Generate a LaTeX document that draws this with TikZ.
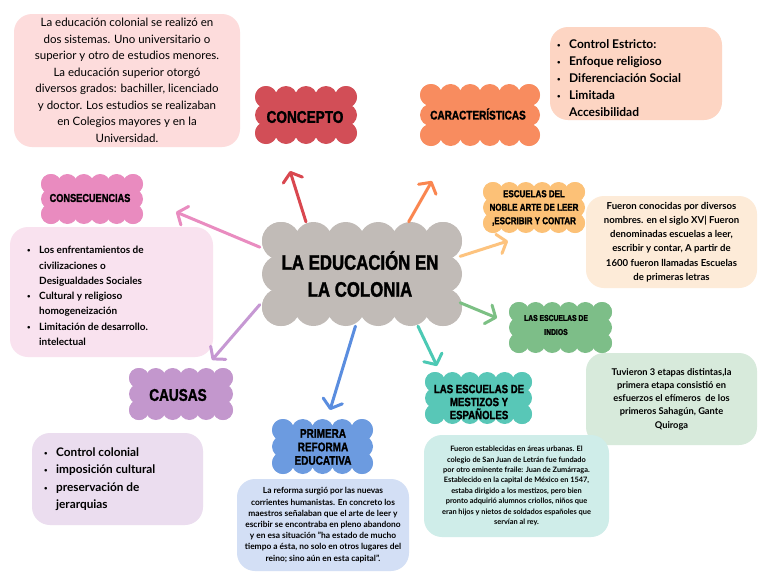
\documentclass[tikz,border=0pt]{standalone}
\usepackage{fontspec}
\setmainfont{Lato}
\newfontfamily\headfont[FakeStretch=0.8,FakeBold=1.5]{Liberation Sans}
\usetikzlibrary{arrows.meta}

\definecolor{cRed}{HTML}{D24E57}
\definecolor{cOrange}{HTML}{F88C5F}
\definecolor{cYellow}{HTML}{FCC177}
\definecolor{cGreen}{HTML}{7DBE88}
\definecolor{cTeal}{HTML}{58C7B7}
\definecolor{cBlue}{HTML}{6C9BE0}
\definecolor{cPurple}{HTML}{C397CD}
\definecolor{cPink}{HTML}{E98BBF}
\definecolor{cGray}{HTML}{C1BBB7}
\definecolor{bPink}{HTML}{FDDCDC}
\definecolor{bPeach}{HTML}{FDD5C3}
\definecolor{bCream}{HTML}{FDEBD8}
\definecolor{bGreen}{HTML}{D7EADB}
\definecolor{bTeal}{HTML}{CFEDE9}
\definecolor{bBlue}{HTML}{D3DFF5}
\definecolor{bLav}{HTML}{EBDDEF}
\definecolor{bRose}{HTML}{F9E2EF}
\definecolor{aRed}{HTML}{D9474F}
\definecolor{aOrange}{HTML}{FA8650}
\definecolor{aYellow}{HTML}{FDC37E}
\definecolor{aGreen}{HTML}{7CC084}
\definecolor{aTeal}{HTML}{4CC9B4}
\definecolor{aBlue}{HTML}{5A8DDF}
\definecolor{aPurple}{HTML}{C698D3}
\definecolor{aPink}{HTML}{E98CC0}

\newcommand\cloudfill[6]{%
  \pgfmathsetmacro\cwA{#3-#1-2*#5}%
  \pgfmathsetmacro\chA{#4-#2-2*#5}%
  \pgfmathtruncatemacro\nxA{max(1,round(\cwA/(1.75*#5)))}%
  \pgfmathtruncatemacro\nyA{max(1,round(\chA/(1.75*#5)))}%
  \fill[#6] ({#1+#5},{#2+#5}) rectangle ({#3-#5},{#4-#5});
  \foreach \k in {0,...,\nxA}{
    \fill[#6] ({#1+#5+\k*\cwA/\nxA},{#2+#5}) circle[radius=#5pt];
    \fill[#6] ({#1+#5+\k*\cwA/\nxA},{#4-#5}) circle[radius=#5pt];
  }
  \foreach \k in {0,...,\nyA}{
    \fill[#6] ({#1+#5},{#2+#5+\k*\chA/\nyA}) circle[radius=#5pt];
    \fill[#6] ({#3-#5},{#2+#5+\k*\chA/\nyA}) circle[radius=#5pt];
  }
}
\newcommand\bitem{\makebox[12pt][l]{\raisebox{1pt}{\fontsize{6}{6}\selectfont\textbullet}}}
\newcommand\bcont{\hspace*{12pt}}

\tikzset{
  box/.style={rounded corners=18pt, inner sep=0pt, align=center, text=black},
  head/.style={font=\headfont\bfseries, text=black, align=center, inner sep=0pt},
  listtext/.style={align=left, inner sep=0pt, anchor=west, text=black},
  arr/.style={line width=3pt, line cap=round, line join=round,
    -{Straight Barb[length=8pt,width=20pt,line cap=round,line join=round]}},
}

\begin{document}
\begin{tikzpicture}[x=1pt,y=-1pt]
\useasboundingbox (0,0) rectangle (768,576);
\fill[white] (0,0) rectangle (768,576);

% ---------- boxes ----------
\node[box, fill=bPink, minimum width=226pt, minimum height=133pt,
  font=\fontsize{11.5}{16.5}\selectfont] (conceptbox) at (127,80.5)
  {La educación colonial se realizó en\\dos sistemas. Uno universitario o\\superior y otro de estudios menores.\\La educación superior otorgó\\diversos grados: bachiller, licenciado\\y doctor. Los estudios se realizaban\\en Colegios mayores y en la\\Universidad.};

\node[box, fill=bPeach, minimum width=172pt, minimum height=93pt] (caractbox) at (636,73.5) {};
\node[listtext, font=\bfseries\fontsize{12}{17}\selectfont] (caracttext) at (557,78)
  {\bitem Control Estricto:\\\bitem Enfoque religioso\\\bitem Diferenciación Social\\\bitem Limitada\\\bcont Accesibilidad};

\node[box, fill=bCream, minimum width=171pt, minimum height=92pt,
  font=\bfseries\fontsize{9.6}{14.3}\selectfont] (noblebox) at (671.5,242)
  {Fueron conocidas por diversos\\nombres. en el siglo XV| Fueron\\denominadas escuelas a leer,\\escribir y contar, A partir de\\1600 fueron llamadas Escuelas\\de primeras letras};

\node[box, fill=bGreen, minimum width=171pt, minimum height=92pt,
  font=\bfseries\fontsize{9.3}{13.3}\selectfont] (indiosbox) at (671.5,399)
  {Tuvieron 3 etapas distintas,la\\primera etapa consistió en\\esfuerzos el efímeros\ \ de los\\primeros Sahagún, Gante\\Quiroga};

\node[box, fill=bTeal, minimum width=185pt, minimum height=102pt,
  font=\bfseries\fontsize{7.4}{10.4}\selectfont] (mestizobox) at (516.5,486)
  {Fueron establecidas en áreas urbanas. El\\colegio de San Juan de Letrán fue fundado\\por otro eminente fraile: Juan de Zumárraga.\\Establecido en la capital de México en 1547,\\estaba dirigido a los mestizos, pero bien\\pronto adquirió alumnos criollos, niños que\\eran hijos y nietos de soldados españoles que\\servían al rey.};

\node[box, fill=bBlue, minimum width=172pt, minimum height=92pt,
  font=\bfseries\fontsize{8.4}{11.2}\selectfont] (reformabox) at (323,525)
  {La reforma surgió por las nuevas\\corrientes humanistas. En concreto los\\maestros señalaban que el arte de leer y\\escribir se encontraba en pleno abandono\\y en esa situación "ha estado de mucho\\tiempo a ésta, no solo en otros lugares del\\reino; sino aún en esta capital".};

\node[box, fill=bLav, minimum width=171pt, minimum height=92pt] (causasbox) at (117.5,479) {};
\node[listtext, font=\bfseries\fontsize{11.8}{17.5}\selectfont] (causastext) at (44,479)
  {\bitem Control colonial\\\bitem imposición cultural\\\bitem preservación de\\\bcont jerarquias};

\node[box, fill=bRose, minimum width=203pt, minimum height=130pt] (consebox) at (111.5,292) {};
\node[listtext, font=\bfseries\fontsize{10}{15.3}\selectfont] (consetext) at (27,296)
  {\bitem Los enfrentamientos de\\\bcont civilizaciones o\\\bcont Desigualdades Sociales\\\bitem Cultural y religioso\\\bcont homogeneización\\\bitem Limitación de desarrollo.\\\bcont intelectual};

% ---------- clouds ----------
\cloudfill{255}{86}{357}{144}{11}{cRed}
\node[head, font=\headfont\bfseries\fontsize{17}{17}\selectfont] (concepto) at (305,117) {CONCEPTO};

\cloudfill{420}{84}{540}{146}{11}{cOrange}
\node[head, font=\headfont\bfseries\fontsize{12.5}{12.5}\selectfont] (caract) at (478,114) {CARACTERÍSTICAS};

\cloudfill{262}{222}{462}{326}{19}{cGray}
\node[head, font=\headfont\bfseries\fontsize{21}{27}\selectfont, minimum width=200pt, minimum height=104pt] (edu) at (360,274)
  {LA EDUCACIÓN EN\\LA COLONIA};

\cloudfill{483}{182}{585}{233}{10}{cYellow}
\node[head, font=\headfont\bfseries\fontsize{10}{13.5}\selectfont] (noble) at (534,208)
  {ESCUELAS DEL\\NOBLE ARTE DE LEER\\,ESCRIBIR Y CONTAR};

\cloudfill{509}{302}{612}{353}{10}{cGreen}
\node[head, font=\headfont\bfseries\fontsize{8.5}{14}\selectfont] (indios) at (556,325)
  {LAS ESCUELAS DE\\INDIOS};

\cloudfill{425}{372}{532}{424}{10}{cTeal}
\node[head, font=\headfont\bfseries\fontsize{12}{13}\selectfont] (mestizos) at (479,402)
  {LAS ESCUELAS DE\\MESTIZOS Y\\ESPAÑOLES};

\cloudfill{272}{419}{373}{474}{11}{cBlue}
\node[head, font=\headfont\bfseries\fontsize{12.5}{13.5}\selectfont] (reforma) at (323,447)
  {PRIMERA\\REFORMA\\EDUCATIVA};

\cloudfill{129}{368}{233}{420}{10}{cPurple}
\node[head, font=\headfont\bfseries\fontsize{17}{17}\selectfont] (causas) at (178,395) {CAUSAS};

\cloudfill{41}{174}{143}{224}{10}{cPink}
\node[head, font=\headfont\bfseries\fontsize{11.5}{11.5}\selectfont] (conse) at (90,198) {CONSECUENCIAS};

% ---------- arrows ----------
\coordinate (tipRed) at (290,171);
\coordinate (tipOrange) at (432,181);
\coordinate (tipYellow) at (508,241);
\coordinate (tipGreen) at (497,318);
\coordinate (tipTeal) at (437,366);
\coordinate (tipBlue) at (330,410);
\coordinate (tipPurple) at (212,360);
\coordinate (tipPink) at (176,212);

\draw[arr, aRed] (edu.136) -- (tipRed);
\draw[arr, aOrange] (edu.47) -- (tipOrange);
\draw[arr, aYellow] (edu.10) -- (tipYellow);
\draw[arr, aGreen] (edu.-16) -- (tipGreen);
\draw[arr, aTeal] (edu.-42) -- (tipTeal);
\draw[arr, aBlue] (edu.-95) -- (tipBlue);
\draw[arr, aPurple] (edu.197) -- (tipPurple);
\draw[arr, aPink] (edu.165) -- (tipPink);
\end{tikzpicture}
\end{document}
